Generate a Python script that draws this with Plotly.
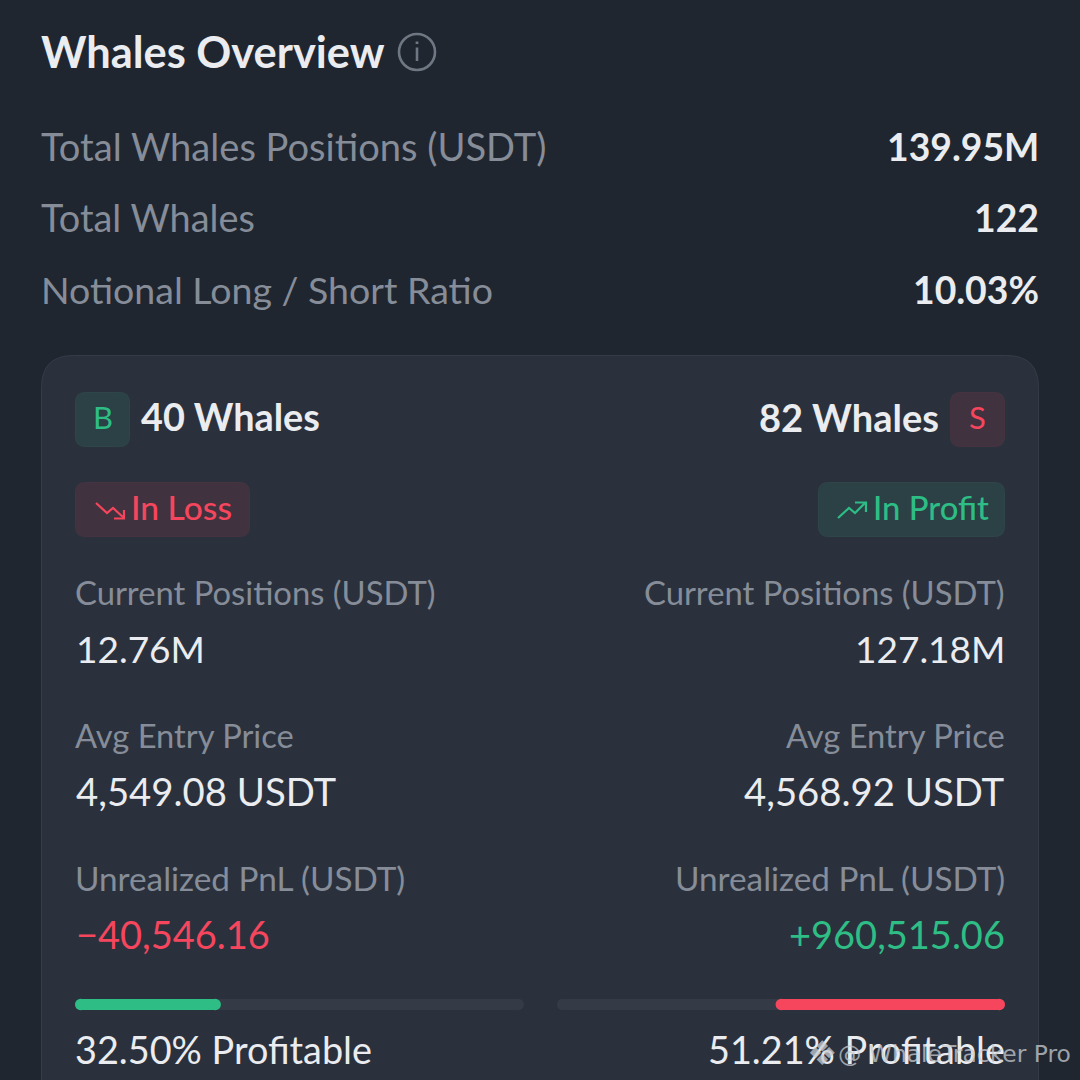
import plotly.graph_objects as go

# values
summaryLabels = ["Total Whales Positions (USDT)", "Total Whales", "Notional Long / Short Ratio"]
summaryValues = ["139.95M", "122", "10.03%"]
rowLabels = ["Current Positions (USDT)", "Avg Entry Price", "Unrealized PnL (USDT)"]
longValues = ["12.76M", "4,549.08 USDT", "−40,546.16"]
shortValues = ["127.18M", "4,568.92 USDT", "+960,515.06"]
profitablePct = [32.50, 51.21]
trackPct = [100, 100]

W = 1080
FONT = "Lato"
BG = "#1f2630"
CARD = "#2a313d"
CARD_LINE = "#353c48"
TRACK = "#343b46"
GREEN = "#2ebd85"
RED = "#f6465d"
GREY = "#868d98"
WHITE = "#eaecef"
MARK = "rgba(200,204,210,0.75)"
BAR_PX = 11.3
BAR_LEN_PX = 449


def px(v):
    return v / W


def py(v):
    return 1 - v / W


def rrect(x0, y0, x1, y1, r):
    # rounded rectangle as svg path, in paper coords
    pts = [
        ("M", x0 + r, y0), ("L", x1 - r, y0), ("Q", x1, y0, x1, y0 + r),
        ("L", x1, y1 - r), ("Q", x1, y1, x1 - r, y1), ("L", x0 + r, y1),
        ("Q", x0, y1, x0, y1 - r), ("L", x0, y0 + r), ("Q", x0, y0, x0 + r, y0),
    ]
    out = ""
    for p in pts:
        out += p[0]
        for i in range(1, len(p), 2):
            out += f" {px(p[i]):.5f},{py(p[i + 1]):.5f} "
    return out + "Z"


def box(x0, y0, x1, y1, r, fill, line=None):
    return dict(type="path", xref="paper", yref="paper", path=rrect(x0 + 0.5, y0 + 0.5, x1 - 0.5, y1 - 0.5, r),
                fillcolor=fill, line=dict(color=line or fill, width=1), layer="below")


def polyline(points, color, width=2.2):
    d = "M " + " L ".join(f"{px(a):.5f},{py(b):.5f}" for a, b in points)
    return dict(type="path", xref="paper", yref="paper", path=d,
                line=dict(color=color, width=width), layer="above")


def label(x, y, text, size, color, anchor="left", weight=400, family=FONT):
    return dict(x=px(x), y=py(y), xref="paper", yref="paper", text=text, showarrow=False,
                xanchor=anchor, yanchor="middle", borderpad=0, borderwidth=0,
                font=dict(family=family, size=size, color=color, weight=weight))


def pill(value, color, xa, ya):
    # line with round end markers, pulled in by the cap so the ends stay on the value
    cap = (BAR_PX / 2) / BAR_LEN_PX * 100
    return go.Scatter(x=[cap, value - cap], y=[0, 0], mode="lines+markers", xaxis=xa, yaxis=ya,
                      line=dict(color=color, width=BAR_PX), marker=dict(color=color, size=BAR_PX),
                      cliponaxis=False, showlegend=False, hoverinfo="skip")


fig = go.Figure()
fig.add_trace(pill(trackPct[0], TRACK, "x", "y"))
fig.add_trace(pill(profitablePct[0], GREEN, "x", "y"))
fig.add_trace(pill(trackPct[1], TRACK, "x2", "y2"))
fig.add_trace(pill(profitablePct[1], RED, "x2", "y2"))

shapes = [
    box(41, 355, 1039, 1140, 32, CARD, CARD_LINE),
    box(75, 392, 130, 447, 10, "#2b4146", "#2f4649"),
    box(950, 392, 1005, 447, 10, "#41323f", "#45343f"),
    box(75, 482, 250, 537, 10, "#41323f", "#45343f"),
    box(818, 482, 1005, 537, 10, "#2b4146", "#2f4649"),
    # info icon
    dict(type="circle", xref="paper", yref="paper", x0=px(399), x1=px(435), y0=py(70), y1=py(34),
         line=dict(color="#6f7782", width=2.6), layer="above"),
    polyline([(417, 47.5), (417, 61)], "#6f7782", 2.6),
    polyline([(417, 41.5), (417, 44)], "#6f7782", 2.8),
    # trend arrows
    polyline([(96, 503), (107, 513), (113, 508), (124, 518)], RED),
    polyline([(124, 510), (124, 518.5), (114, 518.5)], RED),
    polyline([(838, 518), (849, 508), (855, 513), (865, 503)], GREEN),
    polyline([(855, 502.5), (866, 502.5), (866, 512)], GREEN),
]

anns = [label(41, 51, "Whales Overview", 43.4, WHITE, weight=700)]
summarySizes = [38.1, 37.9, 37.5]
for i, y in enumerate([146, 218, 289]):
    anns.append(label(41, y, summaryLabels[i], summarySizes[i], GREY))
    anns.append(label(1039, y, summaryValues[i], 37.3, WHITE, "right", 700))

anns += [
    label(102.5, 417, "B", 31, GREEN, "center"),
    label(141, 417, "40 Whales", 37.8, WHITE, weight=700),
    label(939, 417, "82 Whales", 38, WHITE, "right", 700),
    label(977.5, 417, "S", 31, RED, "center"),
    label(131, 507, "In Loss", 33.6, RED, weight=500),
    label(873, 507, "In Profit", 32.8, GREEN, weight=500),
]

rowSizes = [32.8, 32.7, 33.3]
valueSizes = [37, 38.3, 38]
for i, y in enumerate([592, 735, 878]):
    anns.append(label(75, y, rowLabels[i], rowSizes[i], GREY))
    anns.append(label(1005, y, rowLabels[i], rowSizes[i], GREY, "right"))
    leftColor, rightColor = (RED, GREEN) if i == 2 else (WHITE, WHITE)
    anns.append(label(76, y + 56, longValues[i], valueSizes[i], leftColor))
    anns.append(label(1005, y + 56, shortValues[i], valueSizes[i], rightColor, "right"))

anns += [
    label(75, 1049, f"{profitablePct[0]:.2f}% Profitable", 37.8, WHITE),
    label(1005, 1049, f"{profitablePct[1]:.2f}% Profitable", 37.8, WHITE, "right"),
    label(822, 1053, "❖", 34, MARK, "center", family="DejaVu Sans"),
    label(1071, 1054, "@ WhaleTracker Pro", 23.4, MARK, "right", family="DejaVu Sans"),
]

fig.update_layout(
    width=W, height=W, margin=dict(l=0, r=0, t=0, b=0),
    paper_bgcolor=BG, plot_bgcolor="rgba(0,0,0,0)", showlegend=False,
    xaxis=dict(domain=[px(75), px(524)], range=[0, 100], visible=False, fixedrange=True),
    yaxis=dict(domain=[py(1010), py(999)], range=[-0.5, 0.5], visible=False, fixedrange=True),
    xaxis2=dict(domain=[px(557), px(1005)], range=[100, 0], visible=False, fixedrange=True),
    yaxis2=dict(domain=[py(1010), py(999)], range=[-0.5, 0.5], visible=False, fixedrange=True, anchor="x2"),
    shapes=shapes, annotations=anns,
)

fig.write_html("out.html", config=dict(displayModeBar=False),
               post_script="document.body.style.margin='0';document.body.style.background='#1f2630';")
